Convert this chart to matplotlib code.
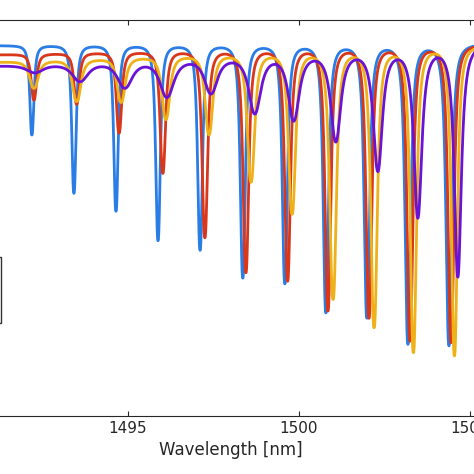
import numpy as np
import matplotlib
matplotlib.use("Agg")
import matplotlib.pyplot as plt

# dip centres [nm] and minimum levels (normalised) per series
blue_pos = [1492.19,1493.42,1494.65,1495.88,1497.11,1498.36,1499.59,1500.79,1501.99,1503.19,1504.39]
blue_min = [0.71,0.563,0.518,0.444,0.42,0.35,0.336,0.263,0.250,0.184,0.179]
red_pos = [1492.25,1493.5,1494.74,1496.02,1497.25,1498.45,1499.67,1500.85,1502.05,1503.25,1504.45]
red_min = [0.798,0.788,0.715,0.614,0.452,0.364,0.343,0.268,0.25,0.192,0.187]
yel_pos = [1492.25,1493.5,1494.8,1496.11,1497.37,1498.6,1499.8,1501.0,1502.2,1503.35,1504.55]
yel_min = [0.828,0.795,0.793,0.75,0.712,0.593,0.513,0.298,0.227,0.164,0.154]
pur_pos = [1492.28,1493.6,1494.91,1496.14,1497.43,1498.71,1499.85,1501.08,1502.31,1503.48,1504.65]
pur_min = [0.869,0.848,0.833,0.81,0.82,0.77,0.753,0.70,0.626,0.508,0.356]
labels = ["Sample 1", "Sample 2", "Sample 3", "Sample 4"]

def curve(lam, pos, mins, base0, base1, w0, w1, p):
    base = base0 + (base1 - base0) * (lam - lam[0]) / (lam[-1] - lam[0])
    y = base.copy()
    n = len(pos)
    for i, (c, m) in enumerate(zip(pos, mins)):
        w = w0 + (w1 - w0) * i / (n - 1)
        b = base0 + (base1 - base0) * (c - lam[0]) / (lam[-1] - lam[0])
        y -= (b - m) / (1 + np.abs((lam - c) / w) ** p)
    return y

lam = np.linspace(1490, 1506, 4000)
fig = plt.figure(figsize=(4.74, 4.74), dpi=100)
ax = fig.add_axes([-43/474, 58/474, 547/474, 396/474])
ax.plot(lam, curve(lam, blue_pos, blue_min, 0.935, 0.94, 0.07, 0.1, 2.5), color="#2b7de6", lw=2, label=labels[0])
ax.plot(lam, curve(lam, red_pos, red_min, 0.91, 0.94, 0.09, 0.1, 2.5), color="#d9361a", lw=2, label=labels[1])
ax.plot(lam, curve(lam, yel_pos, yel_min, 0.89, 0.94, 0.15, 0.1, 2.5), color="#efb118", lw=2, label=labels[2])
ax.plot(lam, curve(lam, pur_pos, pur_min, 0.88, 0.95, 0.3, 0.12, 2.2), color="#6a12d6", lw=2, label=labels[3])
ax.set_xlim(1490, 1506)
ax.set_ylim(0, 1)
ax.set_xticks([1490, 1495, 1500, 1505])
ax.set_yticks([])
ax.tick_params(direction="in", top=True, labelsize=11, colors="#262626")
for s in ax.spines.values():
    s.set_color("#262626")
ax.set_xlabel("Wavelength [nm]", fontsize=12, color="#262626")
ax.legend(loc="center right", bbox_to_anchor=(7/474, 1 - 290/474), bbox_transform=fig.transFigure,
          fancybox=False, edgecolor="black", fontsize=8, handlelength=2)
fig.savefig("out.png", dpi=100)
